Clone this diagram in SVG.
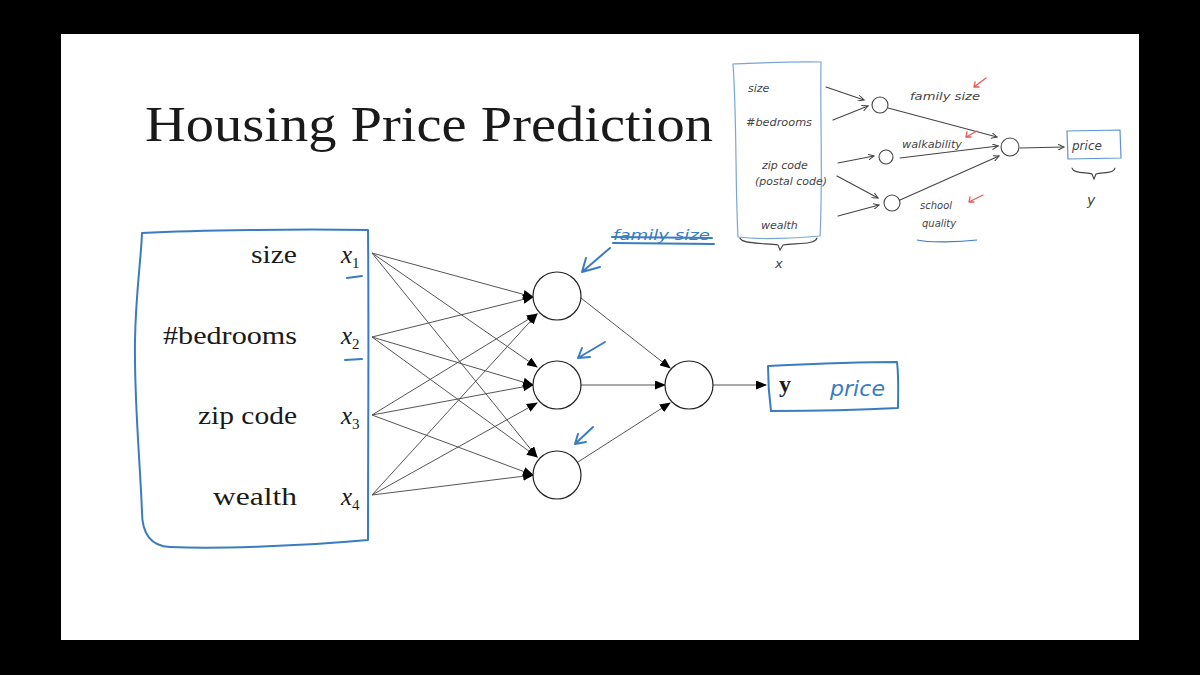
<svg xmlns="http://www.w3.org/2000/svg" width="1200" height="675" viewBox="0 0 1200 675">
<defs>
<style>
.serif{font-family:"Liberation Serif","Times New Roman",serif;fill:#1a1a1a}
.lbl{font-size:25px;text-anchor:end}
.xv{font-size:25px;font-style:italic}
.sub{font-size:15px;font-style:normal}
.conn{stroke:#555;stroke-width:1;fill:none}
.node{fill:#fff;stroke:#222;stroke-width:1.2}
.blue{stroke:#3a7cc2;stroke-width:2;fill:none;stroke-linecap:round;stroke-linejoin:round}
.hand{font-family:"DejaVu Sans","Liberation Sans",sans-serif;font-style:italic;fill:#444}
.ink{stroke:#444;stroke-width:1.1;fill:none;stroke-linecap:round}
.red{stroke:#e85a5a;stroke-width:1.3;fill:none;stroke-linecap:round}
</style>
<marker id="ah" markerUnits="userSpaceOnUse" markerWidth="11" markerHeight="9" refX="10" refY="4.5" orient="auto">
<path d="M0,0 L11,4.5 L0,9 z" fill="#000"/>
</marker>
<marker id="sah" markerUnits="userSpaceOnUse" markerWidth="7" markerHeight="6" refX="6" refY="3" orient="auto">
<path d="M0,0 L6,3 L0,6" fill="none" stroke="#444" stroke-width="1"/>
</marker>
</defs>
<rect x="0" y="0" width="1200" height="675" fill="#000"/>
<rect x="61" y="34" width="1078" height="606" fill="#fff"/>

<text id="title" class="serif" x="145" y="141" font-size="50" textLength="568" lengthAdjust="spacingAndGlyphs">Housing Price Prediction</text>

<g id="inputs">
<path class="blue" d="M142,233 C200,230 300,229 368,230 C369,330 368,440 368,540 C300,546 220,549 170,547 C148,546 142,530 142,512 C140,460 134,400 135,340 C136,290 141,260 142,233 Z"/>
<text class="serif lbl" x="297" y="263" textLength="46" lengthAdjust="spacingAndGlyphs">size</text>
<text class="serif lbl" x="297" y="344" textLength="134" lengthAdjust="spacingAndGlyphs">#bedrooms</text>
<text class="serif lbl" x="297" y="424" textLength="99" lengthAdjust="spacingAndGlyphs">zip code</text>
<text class="serif lbl" x="297" y="505" textLength="84" lengthAdjust="spacingAndGlyphs">wealth</text>
<text class="serif xv" x="341" y="263">x<tspan class="sub" dy="5">1</tspan></text>
<text class="serif xv" x="341" y="344">x<tspan class="sub" dy="5">2</tspan></text>
<text class="serif xv" x="341" y="424">x<tspan class="sub" dy="5">3</tspan></text>
<text class="serif xv" x="341" y="505">x<tspan class="sub" dy="5">4</tspan></text>
<path class="blue" d="M347,278 L362,276"/>
<path class="blue" d="M345,360 L362,359"/>
</g>

<g id="connectors">
<line class="conn" x1="372" y1="253" x2="533" y2="297" marker-end="url(#ah)"/>
<line class="conn" x1="372" y1="253" x2="537" y2="367" marker-end="url(#ah)"/>
<line class="conn" x1="372" y1="253" x2="537" y2="457" marker-end="url(#ah)"/>
<line class="conn" x1="372" y1="337" x2="533" y2="297" marker-end="url(#ah)"/>
<line class="conn" x1="372" y1="337" x2="533" y2="385" marker-end="url(#ah)"/>
<line class="conn" x1="372" y1="337" x2="537" y2="457" marker-end="url(#ah)"/>
<line class="conn" x1="372" y1="415" x2="537" y2="314" marker-end="url(#ah)"/>
<line class="conn" x1="372" y1="415" x2="533" y2="385" marker-end="url(#ah)"/>
<line class="conn" x1="372" y1="415" x2="533" y2="475" marker-end="url(#ah)"/>
<line class="conn" x1="372" y1="495" x2="537" y2="314" marker-end="url(#ah)"/>
<line class="conn" x1="372" y1="495" x2="537" y2="403" marker-end="url(#ah)"/>
<line class="conn" x1="372" y1="495" x2="533" y2="475" marker-end="url(#ah)"/>
<line class="conn" x1="581" y1="298" x2="670" y2="368" marker-end="url(#ah)"/>
<line class="conn" x1="581" y1="385" x2="665" y2="385" marker-end="url(#ah)"/>
<line class="conn" x1="578" y1="462" x2="670" y2="403" marker-end="url(#ah)"/>
<line class="conn" x1="713" y1="385" x2="766" y2="385" marker-end="url(#ah)"/>
</g>

<g id="h1"><circle class="node" cx="557" cy="296" r="24"/></g>
<g id="h2"><circle class="node" cx="557" cy="385" r="24"/></g>
<g id="h3"><circle class="node" cx="557" cy="475" r="24"/></g>
<g id="out"><circle class="node" cx="689" cy="385" r="24"/></g>

<g id="ybox">
<path class="blue" d="M768,366 C810,364 860,362 897,362 C899,378 898,394 898,408 C860,410 810,411 771,411 C769,396 768,380 768,366 Z"/>
<text class="serif" x="779" y="392" font-size="24" font-weight="bold">y</text>
<text x="830" y="396" font-family="'DejaVu Sans',sans-serif" font-style="italic" font-size="22" fill="#3a7cc2" textLength="55" lengthAdjust="spacingAndGlyphs">price</text>
</g>

<g id="annotations">
<text x="613" y="240" font-family="'DejaVu Sans',sans-serif" font-style="italic" font-size="14" fill="#3a7cc2" textLength="97" lengthAdjust="spacingAndGlyphs">family size</text>
<path class="blue" d="M612,237 L712,238"/>
<path class="blue" d="M613,243 L714,244"/>
<path class="blue" d="M610,248 L582,272 M582,272 L586,258 M582,272 L600,267"/>
<path class="blue" d="M605,342 L578,358 M578,358 L582,348 M578,358 L590,357"/>
<path class="blue" d="M593,427 L575,444 M575,444 L578,434 M575,444 L586,442"/>
</g>

<g id="inset">
<path d="M733,64 C760,63 800,61 821,62 C820,120 823,180 820,236 C800,238 760,240 738,237 C735,180 737,120 733,64 Z" fill="none" stroke="#7aa6d6" stroke-width="1.2"/>
<text class="hand" x="748" y="92" font-size="11">size</text>
<text class="hand" x="746" y="126" font-size="10" textLength="66" lengthAdjust="spacingAndGlyphs">#bedrooms</text>
<text class="hand" x="762" y="169" font-size="11">zip code</text>
<text class="hand" x="755" y="185" font-size="10" textLength="72" lengthAdjust="spacingAndGlyphs">(postal code)</text>
<text class="hand" x="761" y="229" font-size="11">wealth</text>
<path class="ink" d="M740,238 C742,245 770,243 778,245 L780,250 L783,245 C795,243 815,245 817,238"/>
<text class="hand" x="775" y="268" font-size="13">x</text>
<circle class="ink" cx="880" cy="105" r="8"/>
<circle class="ink" cx="886" cy="157" r="7"/>
<circle class="ink" cx="892" cy="203" r="8"/>
<circle class="ink" cx="1010" cy="147" r="9"/>
<line class="ink" x1="826" y1="87" x2="864" y2="100" marker-end="url(#sah)"/>
<line class="ink" x1="833" y1="120" x2="868" y2="106" marker-end="url(#sah)"/>
<line class="ink" x1="838" y1="163" x2="874" y2="156" marker-end="url(#sah)"/>
<line class="ink" x1="837" y1="176" x2="878" y2="198" marker-end="url(#sah)"/>
<line class="ink" x1="838" y1="216" x2="879" y2="205" marker-end="url(#sah)"/>
<line class="ink" x1="888" y1="108" x2="997" y2="137" marker-end="url(#sah)"/>
<line class="ink" x1="900" y1="158" x2="998" y2="146" marker-end="url(#sah)"/>
<line class="ink" x1="900" y1="200" x2="999" y2="156" marker-end="url(#sah)"/>
<line class="ink" x1="1020" y1="148" x2="1064" y2="147" marker-end="url(#sah)"/>
<text class="hand" x="910" y="100" font-size="10" textLength="70" lengthAdjust="spacingAndGlyphs">family size</text>
<text class="hand" x="902" y="148" font-size="10" textLength="60" lengthAdjust="spacingAndGlyphs">walkability</text>
<text class="hand" x="920" y="209" font-size="10">school</text>
<text class="hand" x="922" y="227" font-size="10">quality</text>
<path d="M917,240 C930,243 960,242 977,240" fill="none" stroke="#3a7cc2" stroke-width="1.2"/>
<path d="M1067,131 L1120,130 L1121,158 L1068,159 Z" fill="none" stroke="#5b94d0" stroke-width="1.2"/>
<text class="hand" x="1072" y="150" font-size="12">price</text>
<path class="ink" d="M1072,168 C1073,174 1088,172 1092,174 L1094,179 L1096,174 C1102,172 1114,174 1115,168"/>
<text class="hand" x="1087" y="205" font-size="14">y</text>
<path class="red" d="M986,78 L974,87 M974,87 L975,82 M974,87 L979,87"/>
<path class="red" d="M977,131 L966,137 M966,137 L967,132 M966,137 L971,137"/>
<path class="red" d="M983,195 L969,202 M969,202 L970,197 M969,202 L974,202"/>
</g>
</svg>
